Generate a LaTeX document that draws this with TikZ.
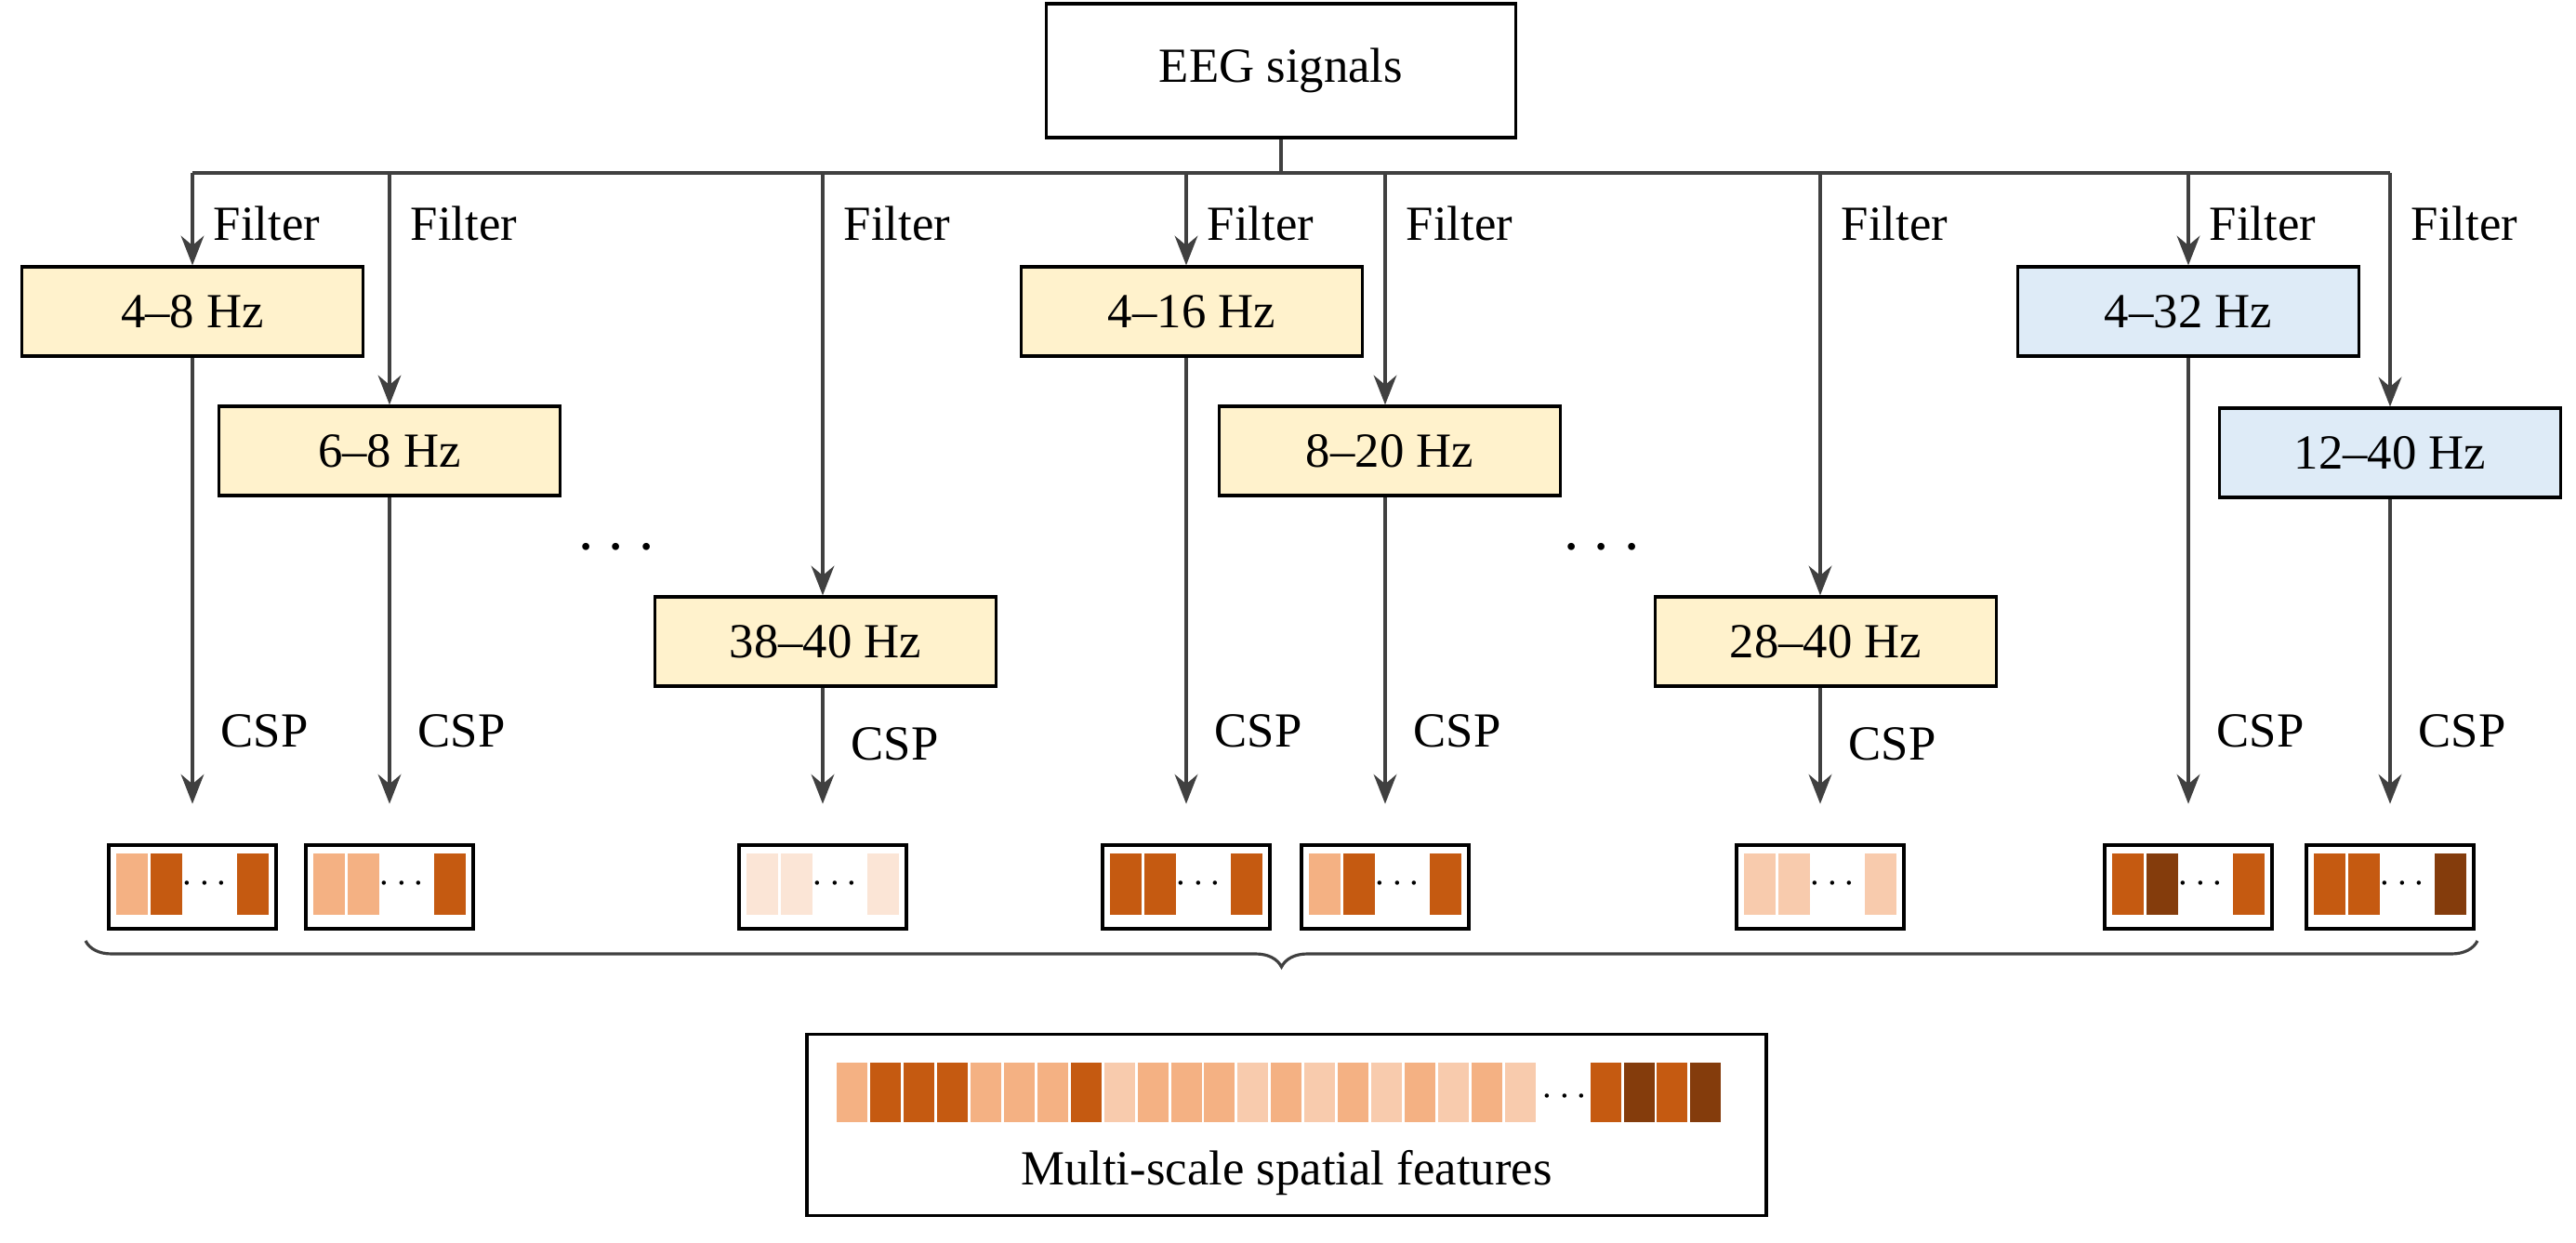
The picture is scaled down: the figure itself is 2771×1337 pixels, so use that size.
\documentclass[tikz,border=0pt]{standalone}
\usepackage{fontspec}
\setmainfont{Liberation Serif}
\usetikzlibrary{arrows.meta,decorations.pathreplacing}
\definecolor{cA}{HTML}{F4B183}
\definecolor{cD}{HTML}{C55A11}
\definecolor{cV}{HTML}{843C0C}
\definecolor{cP}{HTML}{F8CBAD}
\definecolor{cQ}{HTML}{FBE5D6}
\definecolor{bandY}{HTML}{FFF2CC}
\definecolor{bandB}{HTML}{DEEBF7}
\definecolor{ln}{HTML}{404040}
\tikzset{
  every node/.style={font=\fontsize{15}{18}\selectfont},
  band/.style={draw=black,line width=0.9pt,minimum width=3.66cm,minimum height=0.96cm,inner sep=0pt},
  ar/.style={-{Stealth[length=9pt,width=7pt]},draw=ln,line width=1.1pt},
  lab/.style={anchor=west,inner sep=0pt},
  fbox/.style={draw=black,line width=1.3pt,minimum width=1.8cm,minimum height=0.9cm,inner sep=0pt},
}
\newcommand{\feat}[5]{% name, x, c1, c2, c3
  \node[fbox] (#1) at (#2,954) {};
  \fill[#3] ([xshift=0.1cm,yshift=-0.11cm]#1.north west) rectangle +(0.34cm,-0.66cm);
  \fill[#4] ([xshift=0.47cm,yshift=-0.11cm]#1.north west) rectangle +(0.34cm,-0.66cm);
  \fill[#5] ([xshift=-0.1cm,yshift=-0.11cm]#1.north east) rectangle +(-0.34cm,-0.66cm);
  \node[inner sep=0pt,font=\fontsize{12}{12}\selectfont] at ([xshift=0.13cm,yshift=0.03cm]#1.center) {$\cdots$};
}
\begin{document}
\begin{tikzpicture}[x=0.01cm,y=-0.01cm]
\useasboundingbox (0,0) rectangle (2771,1337);
\node[draw=black,line width=0.9pt,minimum width=5.05cm,minimum height=1.44cm] (eeg) at (1378,76) {EEG signals};
\coordinate (bus) at (1378,186);
\draw[ln,line width=1.1pt] (eeg.south) -- (bus);
\draw[ln,line width=1.1pt] (207,186) -- (2571,186);
% bands
\node[band,fill=bandY] (b1) at (207,335) {4--8 Hz};
\node[band,fill=bandY] (b2) at (419,485) {6--8 Hz};
\node[band,fill=bandY] (b3) at (888,690) {38--40 Hz};
\node[band,fill=bandY] (b4) at (1282,335) {4--16 Hz};
\node[band,fill=bandY] (b5) at (1495,485) {8--20 Hz};
\node[band,fill=bandY] (b6) at (1964,690) {28--40 Hz};
\node[band,fill=bandB] (b7) at (2354,335) {4--32 Hz};
\node[band,fill=bandB] (b8) at (2571,487) {12--40 Hz};
\foreach \i/\x in {1/207,2/419,3/885,4/1276,5/1490,6/1958,7/2354,8/2571}{
  \coordinate (t\i) at (\x,186);
  \draw[ar] (t\i) -- (\x,0|-b\i.north);
  \node[lab] (f\i) at (\x+22,240) {Filter};
}
% features
\feat{p1}{207}{cA}{cD}{cD}
\feat{p2}{419}{cA}{cA}{cD}
\feat{p3}{885}{cQ}{cQ}{cQ}
\feat{p4}{1276}{cD}{cD}{cD}
\feat{p5}{1490}{cA}{cD}{cD}
\feat{p6}{1958}{cP}{cP}{cP}
\feat{p7}{2354}{cD}{cV}{cD}
\feat{p8}{2571}{cD}{cD}{cV}
\foreach \i/\x in {1/207,2/419,3/885,4/1276,5/1490,6/1958,7/2354,8/2571}{
  \draw[ar] (\x,0|-b\i.south) -- ([yshift=0.42cm]p\i.north);
}
\foreach \i/\x/\y in {1/207/786,2/419/786,3/885/800,4/1276/786,5/1490/786,6/1958/800,7/2354/786,8/2571/786}{
  \node[lab] (c\i) at (\x+30,\y) {CSP};
}
\node[font=\fontsize{22}{22}\selectfont] (d1) at (663,590) {$\cdots$};
\node[font=\fontsize{22}{22}\selectfont] (d2) at (1723,590) {$\cdots$};
% brace
\draw[ln,line width=0.9pt,decorate,decoration={brace,mirror,amplitude=0.28cm}] (92,1012) -- (2665,1012);
% bottom
\node[draw=black,line width=1.1pt,minimum width=10.32cm,minimum height=1.95cm] (out) at (1384,1210) {};
\foreach \c [count=\k from 0] in {cA,cD,cD,cD,cA,cA,cA,cD,cP,cA,cA,cA,cP,cA,cP,cA,cP,cA,cP,cA,cP}{
  \fill[\c] (900+\k*35.95,1143) rectangle +(33,64);
}
\node[inner sep=0pt,font=\fontsize{13}{13}\selectfont] (dd) at (1683,1180) {$\cdots$};
\foreach \c [count=\k from 0] in {cD,cV,cD,cV}{
  \fill[\c] (1711+\k*35.6,1143) rectangle +(33,64);
}
\node (msf) at (1384,1262) {Multi-scale spatial features};
\end{tikzpicture}
\end{document}
